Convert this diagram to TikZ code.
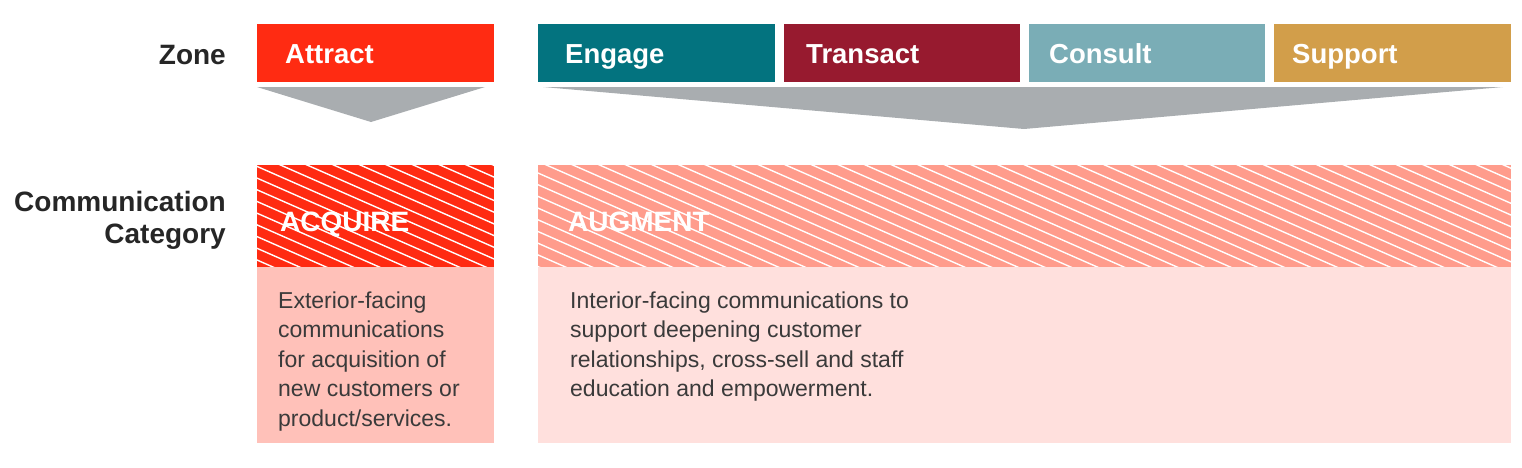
\documentclass[tikz,border=0pt]{standalone}
\usepackage{fontspec}
\setmainfont{Liberation Sans}
\definecolor{cattract}{HTML}{FF2B12}
\definecolor{cengage}{HTML}{03737F}
\definecolor{ctransact}{HTML}{971A2F}
\definecolor{cconsult}{HTML}{7AADB6}
\definecolor{csupport}{HTML}{D29E4A}
\definecolor{cgray}{HTML}{A9ADB0}
\definecolor{caugment}{HTML}{FF9C8C}
\definecolor{cacqlow}{HTML}{FFC1B9}
\definecolor{cauglow}{HTML}{FFE0DD}
\definecolor{clabel}{HTML}{262626}
\definecolor{cbody}{HTML}{3A3A3A}
\begin{document}
\begin{tikzpicture}[x=1pt,y=-1pt,
  zonebox/.style={draw=none,inner sep=0pt,anchor=north west,minimum height=58pt},
  zonetext/.style={anchor=base west,inner sep=0pt,text=white,font=\fontsize{27.5}{30}\selectfont\bfseries},
  rowlabel/.style={anchor=base east,inner sep=0pt,align=right,text=clabel,font=\fontsize{28}{32}\selectfont\bfseries},
  cattext/.style={anchor=base west,inner sep=0pt,text=white,font=\fontsize{28}{30}\selectfont\bfseries},
  bodytext/.style={anchor=base west,inner sep=0pt,align=left,text=cbody,font=\fontsize{23}{29.5}\selectfont},
  hatch/.style={draw=white,line width=1.4pt}
]
\useasboundingbox (0,0) rectangle (1522,467);

% row labels
\node[rowlabel] (zone) at (226,64) {Zone};
\node[rowlabel] (comm) at (226,243) {Communication\\Category};

% zone boxes
\node[zonebox,fill=cattract,minimum width=237pt] (attract) at (257,24) {};
\node[zonebox,fill=cengage,minimum width=237pt] (engage) at (538,24) {};
\node[zonebox,fill=ctransact,minimum width=236pt] (transact) at (784,24) {};
\node[zonebox,fill=cconsult,minimum width=236pt] (consult) at (1029,24) {};
\node[zonebox,fill=csupport,minimum width=237pt] (support) at (1274,24) {};
\node[zonetext] (tattract) at (285,63) {Attract};
\node[zonetext] (tengage) at (565,63) {Engage};
\node[zonetext] (ttransact) at (806,63) {Transact};
\node[zonetext] (tconsult) at (1049,63) {Consult};
\node[zonetext] (tsupport) at (1292,63) {Support};

% gray arrows
\fill[cgray] (257,87) -- (485,87) -- (371,122) -- cycle;
\fill[cgray] (543,87) -- (1503,87) -- (1024,129) -- cycle;

% hatched category boxes
\node[zonebox,fill=cattract,minimum width=237pt,minimum height=102pt] (acquire) at (257,165) {};
\node[zonebox,fill=caugment,minimum width=973pt,minimum height=102pt] (augment) at (538,165) {};
\begin{scope}
  \clip (257,165) rectangle (494,267);
  \foreach \c in {-520,-508.3,...,170} \draw[hatch] (200,{0.44*200+\c}) -- (1600,{0.44*1600+\c});
\end{scope}
\begin{scope}
  \clip (538,165) rectangle (1511,267);
  \foreach \c in {-520,-508.3,...,170} \draw[hatch] (200,{0.44*200+\c}) -- (1600,{0.44*1600+\c});
\end{scope}
\node[cattext] (tacquire) at (280,231) {ACQUIRE};
\node[cattext] (taugment) at (568,231) {AUGMENT};

% lower description boxes
\node[zonebox,fill=cacqlow,minimum width=237pt,minimum height=176pt] (acqlow) at (257,267) {};
\node[zonebox,fill=cauglow,minimum width=973pt,minimum height=176pt] (auglow) at (538,267) {};
\node[bodytext] (dacquire) at (278,426) {Exterior-facing\\communications\\for acquisition of\\new customers or\\product/services.};
\node[bodytext] (daugment) at (570,396.5) {Interior-facing communications to\\support deepening customer\\relationships, cross-sell and staff\\education and empowerment.};
\end{tikzpicture}
\end{document}
